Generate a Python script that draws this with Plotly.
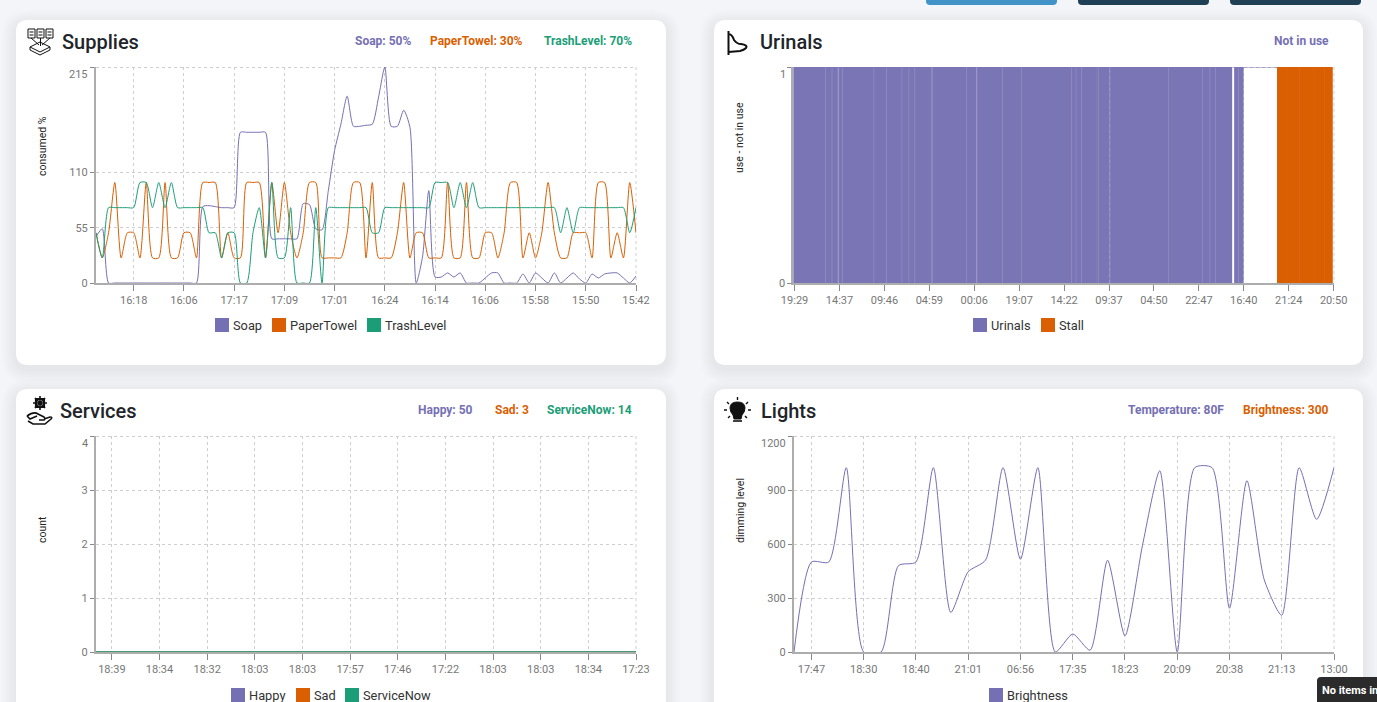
import plotly.graph_objects as go

W, H = 1377, 702
PURPLE, ORANGE, GREEN = "#7570b3", "#d95f02", "#1b9e77"

# ---------- data ----------
soap = [46, 54, 0, 0, 0, 0, 0, 0, 0, 0, 0, 0, 0, 0, 0, 0, 0, 76, 77, 76, 75, 75, 75,
        150, 150, 150, 150, 150, 44, 44, 44, 44, 44, 79, 78, 54, 53, 92, 132, 158, 186,
        156, 156, 157, 158, 185, 215, 156, 156, 172, 155, 0, 26, 92, 6, 6, 10, 6, 10,
        0, 0, 0, 5, 10, 10, 0, 0, 0, 9, 0, 10, 5, 0, 10, 0, 5, 10, 4, 0, 9, 5, 9, 10, 10, 5, 0, 7]
paper_towel = [50, 25, 50, 100, 25, 50, 50, 25, 100, 25, 25, 100, 25, 25, 50, 50, 25, 100, 100, 100,
               25, 50, 25, 25, 100, 100, 100, 25, 100, 50, 100, 50, 25, 50, 100, 100, 25, 25, 25, 25,
               50, 100, 100, 25, 100, 25, 25, 25, 50, 100, 25, 50, 50, 25, 25, 25, 100, 25, 25, 100,
               25, 25, 50, 50, 25, 50, 100, 100, 25, 50, 25, 50, 100, 50, 25, 25, 50, 50, 50, 25,
               100, 100, 25, 50, 25, 100, 50]
trash_level = [50, 25, 75, 75, 75, 75, 75, 100, 100, 75, 100, 75, 100, 75, 75, 75, 75, 75, 50, 50,
               25, 50, 50, 0, 0, 50, 75, 25, 100, 25, 25, 75, 0, 0, 0, 75, 0, 75, 75, 75,
               75, 75, 75, 75, 50, 50, 75, 75, 75, 75, 75, 75, 75, 75, 100, 100, 100, 75, 100, 75,
               100, 75, 75, 75, 75, 75, 75, 75, 75, 75, 75, 75, 75, 75, 50, 75, 50, 75, 75, 75,
               75, 75, 75, 75, 75, 50, 75]
supplies_ticks = ["16:18", "16:06", "17:17", "17:09", "17:01", "16:24", "16:14", "16:06", "15:58", "15:50", "15:42"]
supplies_tick_idx = [6, 14, 22, 30, 38, 46, 54, 62, 70, 78, 86]

urinal_span_starts = [-0.7, 244.7]
urinal_span_ends = [243.5, 249.8]
urinal_starts = [-0.7, 17.3, 21.0, 24.8, 26.7, 44.3, 51.3, 59.9, 63.8, 67.1, 76.8, 96.0, 101.7, 115.9, 126.3,
                 154.3, 156.8, 159.9, 168.3, 169.3, 175.7, 208.3, 227.3, 231.3, 234.3, 244.7, 247.3]
urinal_ends = [17.0, 20.7, 24.0, 26.4, 44.0, 51.0, 59.6, 63.5, 66.8, 76.2, 95.7, 101.0, 115.6, 126.0, 154.0,
               156.5, 159.6, 168.0, 169.0, 175.0, 208.0, 227.0, 231.0, 234.0, 243.5, 247.0, 249.8]
stall_span_starts = [268.5]
stall_span_ends = [299.4]
stall_starts = [268.5, 274.1, 281.1, 289.1, 295.1]
stall_ends = [274.0, 281.0, 289.0, 295.0, 299.4]
idle_x = [249.8, 268.5]
idle_y = [1, 1]
urinal_ticks = ["19:29", "14:37", "09:46", "04:59", "00:06", "19:07", "14:22", "09:37", "04:50", "22:47", "16:40", "21:24", "20:50"]
urinal_tick_idx = [0, 25, 50, 75, 100, 125, 150, 175, 200, 225, 250, 275, 300]

happy = [0] * 35
sad = [0] * 35
service_now = [0] * 35
services_ticks = ["18:39", "18:34", "18:32", "18:03", "18:03", "17:57", "17:46", "17:22", "18:03", "18:03", "18:34", "17:23"]
services_tick_idx = [1, 4, 7, 10, 13, 16, 19, 22, 25, 28, 31, 34]

brightness = [0, 500, 500, 1024, 0, 0, 480, 500, 1024, 220, 446, 511, 1024, 515, 1024, 0,
              100, 10, 510, 90, 590, 1007, 0, 1024, 1024, 243, 952, 400, 204, 1024, 737, 1024]
lights_ticks = ["17:47", "18:30", "18:40", "21:01", "06:56", "17:35", "18:23", "20:09", "20:38", "21:13", "13:00"]
lights_tick_idx = [1, 4, 7, 10, 13, 16, 19, 22, 25, 28, 31]


# ---------- pixel helpers ----------
def px(x):
    return x / W


def py(y):
    return 1 - y / H


def pt(x, y):
    return f"{px(x):.5f} {py(y):.5f}"


def path(cmds):
    out = []
    for c in cmds:
        if len(c) == 1:
            out.append(c[0])
        elif len(c) == 3:
            out.append(f"{c[0]} {pt(c[1], c[2])}")
        else:
            out.append(f"{c[0]} {pt(c[1], c[2])} {pt(c[3], c[4])}")
    return " ".join(out)


def rrect(x0, y0, x1, y1, r):
    c = [("M", x0 + r, y0), ("L", x1 - r, y0), ("Q", x1, y0, x1, y0 + r),
         ("L", x1, y1 - r), ("Q", x1, y1, x1 - r, y1), ("L", x0 + r, y1), ("Q", x0, y1, x0, y1 - r),
         ("L", x0, y0 + r), ("Q", x0, y0, x0 + r, y0), ("Z",)]
    return path(c)


shapes, annos = [], []


def add_path(d, fill="rgba(0,0,0,0)", line=None, lw=1):
    shapes.append(dict(type="path", path=d, xref="paper", yref="paper", layer="below",
                       fillcolor=fill, line=dict(color=line or "rgba(0,0,0,0)", width=lw if line else 0)))


def card(x0, y0, x1, y1):
    for s in range(14, 0, -2):
        add_path(rrect(x0 - s, y0 - s + 4, x1 + s, y1 + s + 4, 12 + s), fill="rgba(30,30,50,0.009)")
    add_path(rrect(x0, y0, x1, y1, 12), fill="#ffffff")


def text(x, y, s, size=12, color="#222", anchor="left", weight=400, angle=0, family="Roboto"):
    annos.append(dict(x=px(x), y=py(y), xref="paper", yref="paper", text=s, showarrow=False,
                      xanchor=anchor, yanchor="middle", textangle=angle, borderpad=0, borderwidth=0,
                      font=dict(family=family, size=size, color=color, weight=weight)))


def edge_grid(x0, x1, y0):
    for ax0, ay0, ax1, ay1 in [(x0, y0 + 0.5, x1, y0 + 0.5), (x1, y0, x1, y0 + 216)]:
        shapes.append(dict(type="line", xref="paper", yref="paper", layer="below",
                           x0=px(ax0), y0=py(ay0), x1=px(ax1), y1=py(ay1),
                           line=dict(color="#cfcfcf", width=1, dash="3px,3px")))


# top buttons
add_path(rrect(926, -8, 1057, 5, 4), fill="#4193c8")
add_path(rrect(1078, -8, 1209, 5, 4), fill="#1f4055")
add_path(rrect(1230, -8, 1361, 5, 4), fill="#1f4055")

card(16, 20, 666, 365)
card(714, 20, 1363, 365)
card(16, 389, 666, 745)
card(714, 389, 1363, 745)

edge_grid(96, 636, 67)
edge_grid(794, 1334, 67)
edge_grid(96, 636, 436)
edge_grid(794, 1334, 436)

# titles
text(62, 42, "Supplies", size=20, color="#212529", weight=500)
text(760, 42, "Urinals", size=20, color="#212529", weight=500)
text(60, 411, "Services", size=20, color="#212529", weight=500)
text(761, 411, "Lights", size=20, color="#212529", weight=500)

# header stats
for xr, yh, s, col in [(411, 41, "Soap: 50%", PURPLE), (523, 41, "PaperTowel: 30%", ORANGE), (632, 41, "TrashLevel: 70%", GREEN),
                       (1329, 41, "Not in use", PURPLE),
                       (473, 410, "Happy: 50", PURPLE), (529, 410, "Sad: 3", ORANGE), (632, 410, "ServiceNow: 14", GREEN),
                       (1224, 410, "Temperature: 80F", PURPLE), (1329, 410, "Brightness: 300", ORANGE)]:
    text(xr, yh, s, size=12, color=col, anchor="right", weight=700)

# y axis captions
text(42, 146, "consumed %", size=10.5, color="#222", anchor="center", angle=-90)
text(740, 138, "use - not in use", size=10.5, color="#222", anchor="center", angle=-90)
text(42, 530, "count", size=10.5, color="#222", anchor="center", angle=-90)
text(740, 511, "dimming level", size=10.5, color="#222", anchor="center", angle=-90)

# legends
for xs, yc, name, col in [(215, 325, "Soap", PURPLE), (272, 325, "PaperTowel", ORANGE), (367, 325, "TrashLevel", GREEN),
                          (973, 325, "Urinals", PURPLE), (1041, 325, "Stall", ORANGE),
                          (231, 695, "Happy", PURPLE), (296, 695, "Sad", ORANGE), (345, 695, "ServiceNow", GREEN),
                          (989, 695, "Brightness", PURPLE)]:
    add_path(path([("M", xs, yc - 7), ("L", xs + 14, yc - 7), ("L", xs + 14, yc + 7), ("L", xs, yc + 7), ("Z",)]), fill=col)
    text(xs + 18, yc, name, size=12.8, color="#333")

# top y labels sit just under the top gridline
text(88, 74, "215", size=11, color="#777", anchor="right")
text(786, 74, "1", size=11, color="#777", anchor="right")
text(88, 443, "4", size=11, color="#777", anchor="right")
text(786, 443, "1200", size=11, color="#777", anchor="right")

# icons
INK = "#111111"
for bx in (28, 37, 46):
    add_path(path([("M", bx, 29), ("L", bx + 7, 29), ("L", bx + 7, 38), ("L", bx, 38), ("Z",)]), line=INK, lw=1)
    add_path(path([("M", bx + 1.5, 32), ("L", bx + 5.5, 32), ("M", bx + 1.5, 35), ("L", bx + 5.5, 35)]), line=INK, lw=1)
add_path(path([("M", 31, 38), ("L", 39, 45), ("M", 40.5, 38), ("L", 40.5, 46), ("M", 50, 38), ("L", 42, 45)]), line=INK, lw=1)
add_path(path([("M", 40, 42), ("L", 50, 47), ("L", 40, 52), ("L", 30, 47), ("Z",),
               ("M", 30, 47), ("L", 30, 50), ("L", 40, 55), ("L", 50, 50), ("L", 50, 47)]), line=INK, lw=1)

add_path(path([("M", 728.5, 31), ("L", 728.5, 55), ("M", 728.5, 34), ("Q", 732, 34, 734, 40), ("Q", 737, 44, 741, 44),
               ("Q", 748, 45, 746, 48), ("Q", 744, 50, 740, 51), ("L", 728.5, 52)]), line=INK, lw=2)

add_path(path([("M", 37, 416), ("L", 30, 419), ("L", 27, 416), ("M", 27, 416), ("Q", 34, 411, 38, 414), ("L", 44, 417),
               ("Q", 46, 419, 44, 420), ("L", 39, 420), ("M", 44, 419), ("L", 50, 417), ("Q", 53, 417, 51, 419),
               ("L", 45, 424), ("L", 33, 424), ("L", 28, 421)]), line=INK, lw=1.6)
add_path(path([("M", 36, 399), ("L", 44, 399), ("L", 44, 407), ("L", 36, 407), ("Z",)]), line=INK, lw=2.2)
add_path(path([("M", 40, 396), ("L", 40, 410), ("M", 33, 403), ("L", 47, 403), ("M", 35, 398), ("L", 45, 408), ("M", 45, 398), ("L", 35, 408)]), line=INK, lw=1.6)

add_path(path([("M", 730, 408), ("Q", 730, 402, 737.5, 402), ("Q", 745, 402, 745, 408), ("Q", 745, 412, 742, 415),
               ("L", 741, 419), ("L", 734, 419), ("L", 733, 415), ("Q", 730, 412, 730, 408), ("Z",)]), fill=INK, line=INK, lw=1)
add_path(path([("M", 733, 421), ("L", 742, 421)]), line=INK, lw=1.6)
add_path(path([("M", 737.5, 397), ("L", 737.5, 400), ("M", 727, 402), ("L", 729, 404), ("M", 748, 402), ("L", 746, 404),
               ("M", 724, 410), ("L", 727, 410), ("M", 748, 410), ("L", 751, 410),
               ("M", 728, 418), ("L", 730, 416), ("M", 747, 418), ("L", 745, 416)]), line=INK, lw=1.4)

# tooltip
add_path(rrect(1317, 677, 1392, 712, 4), fill="#2b2b2b")
text(1322, 690, "No items in", size=11, color="#ffffff", weight=700)

# ---------- figure ----------
fig = go.Figure()
LINE = dict(width=1, shape="spline", smoothing=0.65)

for name, ys, col in [("Soap", soap, PURPLE), ("PaperTowel", paper_towel, ORANGE), ("TrashLevel", trash_level, GREEN)]:
    fig.add_trace(go.Scatter(x=list(range(len(ys))), y=ys, mode="lines", name=name,
                             line=dict(color=col, **LINE), xaxis="x", yaxis="y"))


def bars(starts, ends, col, name, op=1.0):
    fig.add_trace(go.Bar(x=[(a + b) / 2 for a, b in zip(starts, ends)], y=[1] * len(starts),
                         width=[b - a for a, b in zip(starts, ends)], name=name,
                         marker=dict(color=col, line=dict(width=0)), opacity=op, xaxis="x2", yaxis="y2"))


bars(urinal_span_starts, urinal_span_ends, PURPLE, "Urinals", 0.72)
bars(urinal_starts, urinal_ends, "#7a75b5", "Urinals")
bars(stall_span_starts, stall_span_ends, ORANGE, "Stall", 0.85)
bars(stall_starts, stall_ends, ORANGE, "Stall")
fig.add_trace(go.Scatter(x=idle_x, y=idle_y, mode="lines", name="Idle", line=dict(color=PURPLE, width=2),
                         opacity=0.45, cliponaxis=False, xaxis="x2", yaxis="y2"))

for name, ys, col, op in [("Happy", happy, PURPLE, 0.5), ("Sad", sad, ORANGE, 0.5), ("ServiceNow", service_now, GREEN, 0.75)]:
    fig.add_trace(go.Scatter(x=list(range(len(ys))), y=ys, mode="lines", name=name, cliponaxis=False,
                             line=dict(color=col, width=2), opacity=op, xaxis="x3", yaxis="y3"))

fig.add_trace(go.Scatter(x=list(range(len(brightness))), y=brightness, mode="lines", name="Brightness",
                         line=dict(color=PURPLE, **LINE), xaxis="x4", yaxis="y4"))


def xax(x0, x1, rng, vals, labels, anchor, layer="above traces"):
    return dict(domain=[px(x0), px(x1)], range=rng, tickmode="array", tickvals=vals, ticktext=labels, anchor=anchor,
                showgrid=True, gridcolor="#cfcfcf", griddash="3px,3px", gridwidth=1, zeroline=False, layer=layer,
                showline=True, linecolor="#adadad", linewidth=2, ticks="outside", ticklen=6, tickwidth=1,
                tickcolor="#888", tickangle=0, tickfont=dict(family="Roboto", size=11, color="#777"))


def yax(y0, y1, rng, vals, labels, anchor):
    return dict(domain=[py(y1), py(y0)], range=rng, tickmode="array", tickvals=vals, ticktext=labels, anchor=anchor,
                showgrid=True, gridcolor="#cfcfcf", griddash="3px,3px", gridwidth=1, zeroline=False,
                showline=True, linecolor="#adadad", linewidth=2, ticks="outside", ticklen=4, tickwidth=1,
                tickcolor="#888", tickfont=dict(family="Roboto", size=11, color="#777"))


fig.update_layout(
    width=W, height=H, margin=dict(l=0, r=0, t=0, b=0, autoexpand=False), showlegend=False, barmode="overlay",
    paper_bgcolor="#f3f5f9", plot_bgcolor="rgba(0,0,0,0)", shapes=shapes, annotations=annos,
    xaxis=xax(96, 636, [0, 86], supplies_tick_idx, supplies_ticks, "y"),
    yaxis=yax(67, 283, [0, 215], [0, 55, 110, 215], ["0", "55", "110", ""], "x"),
    xaxis2=xax(793.3, 1334, [-0.7, 300.2], urinal_tick_idx, urinal_ticks, "y2"),
    yaxis2=yax(67, 283, [0, 1], [0, 1], ["0", ""], "x2"),
    xaxis3=xax(96, 636, [0, 34], services_tick_idx, services_ticks, "y3", layer="below traces"),
    yaxis3=yax(436, 652, [0, 4], [0, 1, 2, 3, 4], ["0", "1", "2", "3", ""], "x3"),
    xaxis4=xax(794, 1334, [0, 31], lights_tick_idx, lights_ticks, "y4"),
    yaxis4=yax(436, 652, [0, 1200], [0, 300, 600, 900, 1200], ["0", "300", "600", "900", ""], "x4"),
)

fig.write_html("out.html", post_script="document.body.style.margin='0';document.documentElement.style.overflow='hidden';",
               config={"displayModeBar": False})
